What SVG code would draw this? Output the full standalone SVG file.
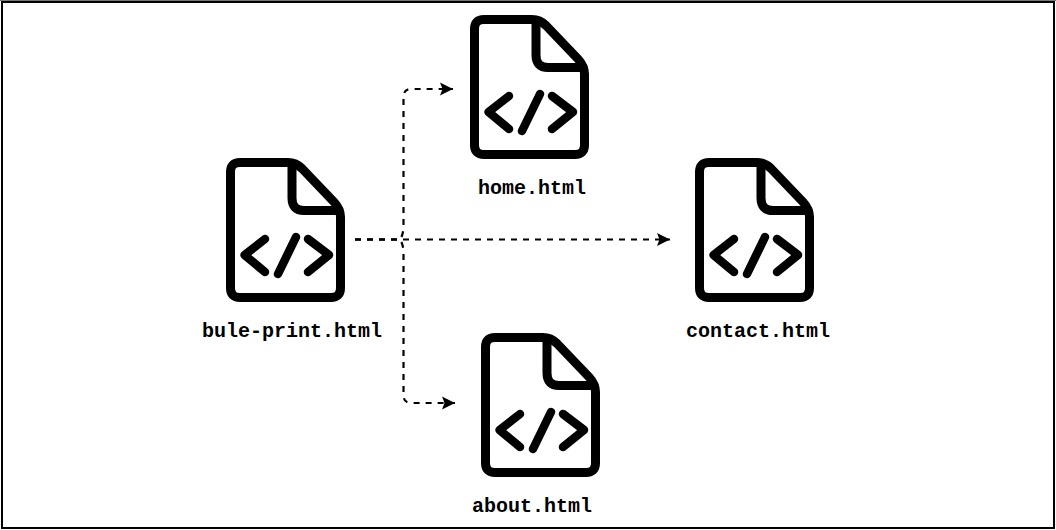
<svg xmlns="http://www.w3.org/2000/svg" width="1056" height="530" viewBox="0 0 1056 530">
<style>
.ic{fill:none;stroke:#000;stroke-width:9;stroke-linecap:round;stroke-linejoin:round}
.cd{fill:none;stroke:#000;stroke-width:8.500;stroke-linecap:round;stroke-linejoin:round}
.lb{font-family:"Liberation Mono","Courier New",monospace;font-weight:bold;font-size:20px;text-anchor:middle;fill:#000}
.cn{fill:none;stroke:#000;stroke-width:2.2;stroke-dasharray:6 6}
</style>
<defs>
<g id="file">
<path class="ic" d="M14 4.5H62Q70 4.500 76 10.500L108 44Q114.500 51 114.500 59V130Q114.500 139.500 105 139.500H14Q4.500 139.500 4.500 130V14Q4.500 4.500 14 4.500Z"/>
<path class="ic" d="M66 6V40Q66 52.500 78 52.500H113"/>
<path class="cd" d="M39 81L18.500 97L39 114M82 81L103 97L82 114M70 79L52 116"/>
</g>
<marker id="ah" markerUnits="userSpaceOnUse" markerWidth="16" markerHeight="16" refX="13" refY="7" orient="auto">
<path d="M0 0.500L13 7L0 13.500L2.500 7Z" fill="#000"/>
</marker>
</defs>
<rect width="1056" height="530" fill="#fff"/>
<rect x="0" y="0" width="1056" height="1" fill="#777"/>
<rect x="2" y="2" width="1052" height="526" fill="#fff" stroke="#000" stroke-width="2"/>
<g id="connectors">
<path class="cn" marker-end="url(#ah)" d="M355 239.5H670"/>
<path class="cn" marker-end="url(#ah)" d="M355 239.5H400Q403 235 403.500 228V97Q403.500 89 411 89H453"/>
<path class="cn" marker-end="url(#ah)" d="M355 239.5H400Q403 244 403.500 251V395Q403.500 403 411 403H455"/>
</g>
<g id="node-blueprint"><use href="#file" x="226" y="158"/><text class="lb" x="292" y="336.500">bule-print.html</text></g>
<g id="node-home"><use href="#file" x="470" y="15"/><text class="lb" x="532" y="193.500">home.html</text></g>
<g id="node-contact"><use href="#file" x="695" y="158"/><text class="lb" x="758" y="336.500">contact.html</text></g>
<g id="node-about"><use href="#file" x="481" y="333"/><text class="lb" x="532" y="511.500">about.html</text></g>
</svg>
